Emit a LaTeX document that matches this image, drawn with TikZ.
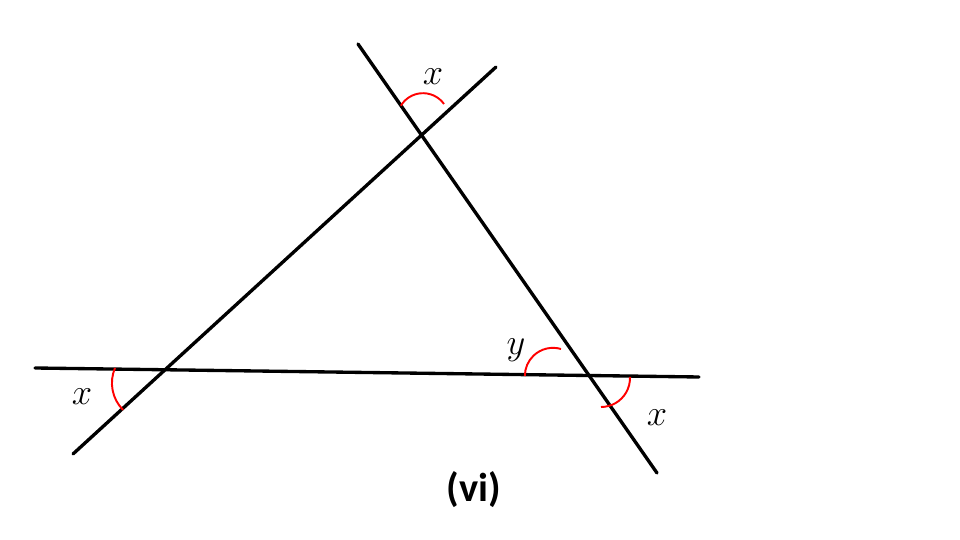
\documentclass[tikz,border=0pt]{standalone}
\usepackage{tkz-euclide}
\usepackage{amsmath}
\usepackage{fontspec}
\setsansfont{Carlito}

\begin{document}
\begin{tikzpicture}
    \useasboundingbox (0,0) rectangle (19.2,10.8);
    % Points
    \tkzDefPoint(0.70,3.44){h}
    \tkzDefPoint(13.98,3.26){h'}
    \tkzDefPoint(1.46,1.72){p}
    \tkzDefPoint(9.92,9.46){p'}
    \tkzDefPoint(7.16,9.92){q}
    \tkzDefPoint(13.14,1.34){q'}
    % Arc centres
    \tkzDefPoint(3.00,3.14){oa}
    \tkzDefPoint(2.30,3.44){sa}
    \tkzDefPoint(2.50,2.64){ea}
    \tkzDefPoint(8.46,8.42){ob}
    \tkzDefPoint(8.88,8.72){sb}
    \tkzDefPoint(8.06,8.66){eb}
    \tkzDefPoint(11.06,3.28){oy}
    \tkzDefPoint(11.22,3.82){sy}
    \tkzDefPoint(10.54,3.28){ey}
    \tkzDefPoint(12.02,3.24){oc}
    \tkzDefPoint(12.02,2.66){sc}
    \tkzDefPoint(12.58,3.26){ec}
    % Ways
    \tkzDrawSegments[line width=1.9pt](h,h' p,p' q,q')
    % Markers
    \tkzDrawArc[red,line width=1.1pt](oa,sa)(ea)
    \tkzDrawArc[red,line width=1.1pt](ob,sb)(eb)
    \tkzDrawArc[red,line width=1.1pt](oy,sy)(ey)
    \tkzDrawArc[red,line width=1.1pt](oc,sc)(ec)
    % Labels
    \node[font=\fontsize{20}{24}\selectfont] (xa) at (1.64,2.86) {$x$};
    \node[font=\fontsize{20}{24}\selectfont] (xb) at (8.66,9.26) {$x$};
    \node[font=\fontsize{20}{24}\selectfont] (yc) at (10.32,3.80) {$y$};
    \node[font=\fontsize{20}{24}\selectfont] (xc) at (13.14,2.44) {$x$};
    \node[font=\sffamily\bfseries\fontsize{23}{27}\selectfont] (vi) at (9.48,1.00) {(vi)};
  \end{tikzpicture}
\end{document}
